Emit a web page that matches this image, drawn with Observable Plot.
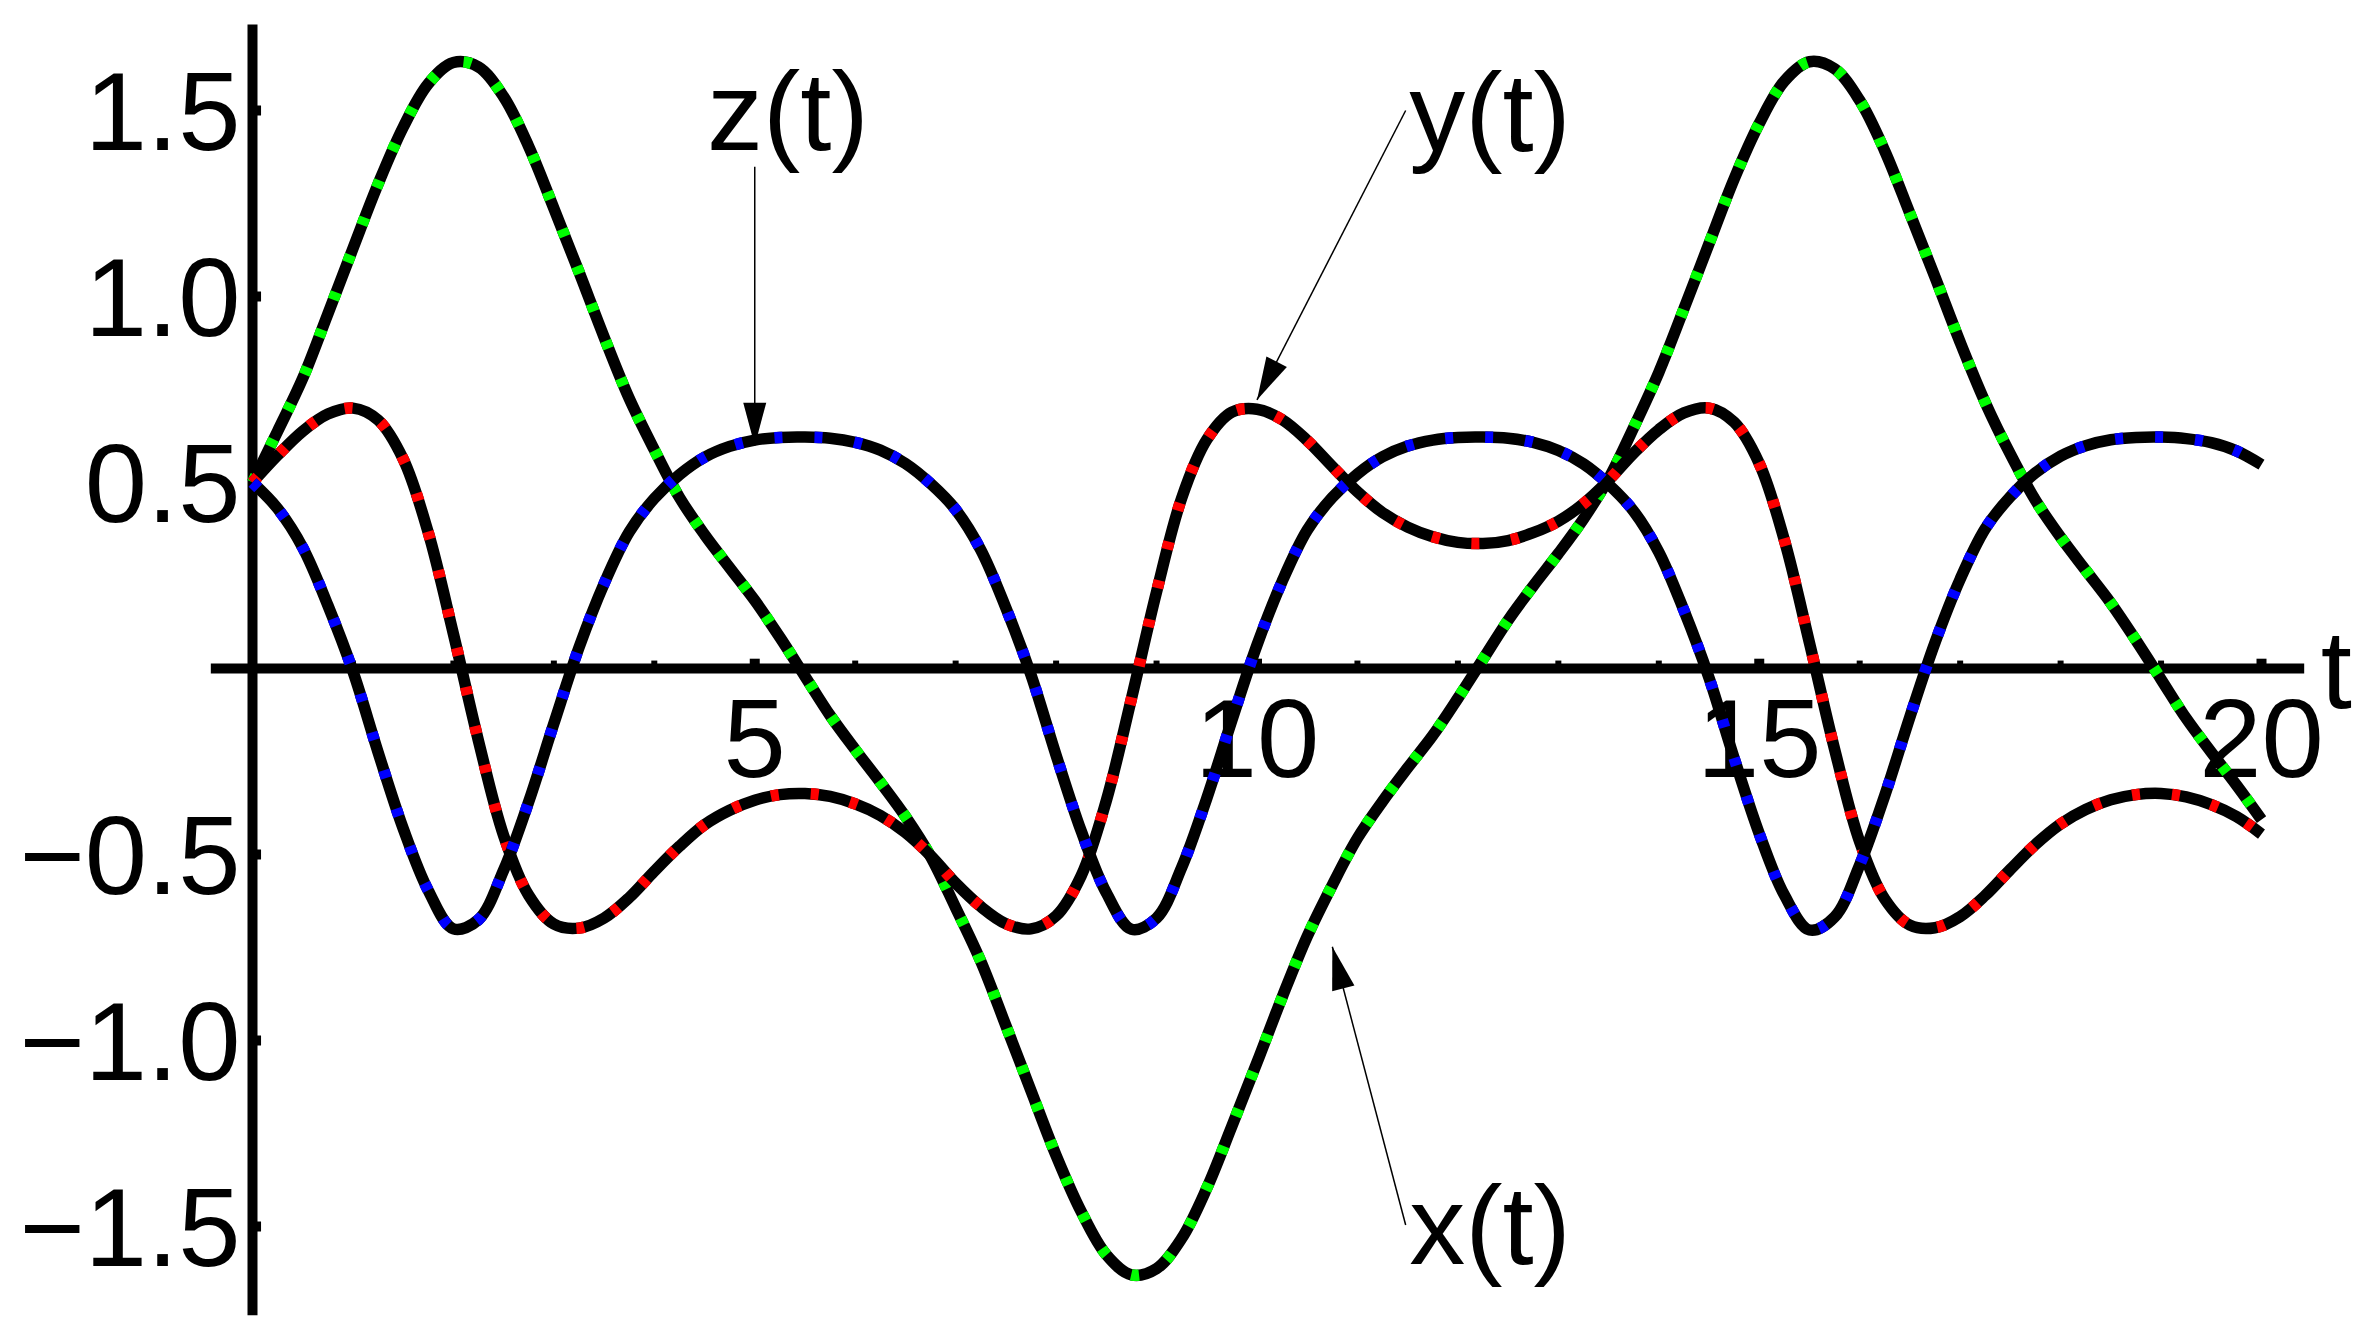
<!DOCTYPE html>
<html>
<head>
<meta charset="utf-8">
<script src="https://cdn.jsdelivr.net/npm/d3@7"></script>
<script src="https://cdn.jsdelivr.net/npm/@observablehq/plot@0.6"></script>
<style>
  html, body { margin: 0; padding: 0; background: #ffffff; }
  #chart { width: 2368px; height: 1332px; }
</style>
</head>
<body>
<div id="chart"></div>
<script>
// time grid (step 0.25)
const tValues = d3.range(0, 20.001, 0.25);

// series values
const xValues = [0.500,0.638,0.780,0.953,1.129,1.302,1.455,1.572,1.629,1.617,
  1.537,1.403,1.237,1.066,0.891,0.726,0.588,0.460,0.360,0.271,
  0.183,0.084,-0.021,-0.126,-0.218,-0.306,-0.398,-0.505,-0.643,-0.787,
  -0.960,-1.135,-1.309,-1.460,-1.576,-1.630,-1.613,-1.532,-1.397,-1.230,
  -1.059,-0.884,-0.720,-0.582,-0.456,-0.357,-0.267,-0.180,-0.080,0.025,
  0.130,0.222,0.309,0.402,0.510,0.648,0.796,0.967,1.142,1.316,
  1.465,1.579,1.631,1.612,1.527,1.391,1.223,1.052,0.877,0.715,
  0.576,0.452,0.353,0.264,0.176,0.076,-0.029,-0.134,-0.225,-0.313,-0.406];

const yValues = [0.500,0.573,0.638,0.684,0.700,0.668,0.563,0.365,0.093,-0.195,
  -0.449,-0.610,-0.687,-0.698,-0.671,-0.616,-0.545,-0.478,-0.420,-0.381,
  -0.354,-0.339,-0.336,-0.344,-0.364,-0.395,-0.441,-0.503,-0.577,-0.640,
  -0.686,-0.700,-0.665,-0.557,-0.355,-0.081,0.206,0.458,0.615,0.689,
  0.697,0.669,0.613,0.543,0.475,0.419,0.380,0.354,0.339,0.336,
  0.344,0.365,0.396,0.443,0.506,0.579,0.642,0.687,0.700,0.662,
  0.551,0.345,0.069,-0.217,-0.466,-0.620,-0.690,-0.697,-0.667,-0.610,
  -0.540,-0.473,-0.418,-0.379,-0.353,-0.339,-0.336,-0.345,-0.366,-0.398,-0.445];

const zValues = [0.500,0.430,0.325,0.170,-0.008,-0.225,-0.430,-0.597,-0.700,-0.675,
  -0.542,-0.358,-0.148,0.056,0.228,0.367,0.457,0.521,0.568,0.597,
  0.614,0.621,0.622,0.619,0.608,0.587,0.551,0.497,0.427,0.319,
  0.163,-0.017,-0.233,-0.437,-0.603,-0.701,-0.671,-0.535,-0.349,-0.139,
  0.063,0.234,0.372,0.460,0.523,0.569,0.598,0.614,0.621,0.622,
  0.619,0.608,0.586,0.550,0.495,0.423,0.313,0.156,-0.025,-0.241,
  -0.444,-0.609,-0.703,-0.668,-0.528,-0.341,-0.130,0.070,0.240,0.376,
  0.462,0.526,0.571,0.599,0.615,0.621,0.622,0.618,0.607,0.585,0.548];

const seriesNames = ["x(t)", "y(t)", "z(t)"];
const seriesColors = ["#00ff00", "#ff0000", "#0000ff"];
const seriesValues = [xValues, yValues, zValues];

// axes
const xTickValues = [5, 10, 15, 20];
const xTickLabels = ["5", "10", "15", "20"];
const xMinorTicks = [1,2,3,4,6,7,8,9,11,12,13,14,16,17,18,19];
const yTickValues = [-1.5, -1, -0.5, 0.5, 1, 1.5];
const yTickLabels = ["\u22121.5", "\u22121.0", "\u22120.5", "0.5", "1.0", "1.5"];
const axisLabel = "t";

// annotation labels with arrows
const annoLabels = ["z(t)", "y(t)", "x(t)"];
const annoTextPos = [[5.33, 1.395], [12.32, 1.392], [12.32, -1.602]];
const annoArrowFrom = [[5.0, 1.349], [11.48, 1.50], [11.48, -1.496]];
const annoArrowTo = [[5.0, 0.599], [10.0, 0.722], [10.75, -0.748]];

// scale setup
const xDomain = [0, 20], xRange = [252, 2261];
const yDomain = [-1.5, 1.5], yRange = [1226, 110];
const pxPerT = (xRange[1] - xRange[0]) / (xDomain[1] - xDomain[0]);
const pxPerV = (yRange[0] - yRange[1]) / (yDomain[1] - yDomain[0]);

const annotations = annoLabels.map((label, i) => {
  const [x1, y1] = annoArrowFrom[i], [x2, y2] = annoArrowTo[i];
  const ang = Math.atan2((x2 - x1) * pxPerT, (y2 - y1) * pxPerV) * 180 / Math.PI;
  return {label, tx: annoTextPos[i][0], ty: annoTextPos[i][1], x1, y1, x2, y2, rot: (ang + 360) % 360};
});

const FONT = 112;
const lineMarks = [];
seriesNames.forEach((name, k) => {
  const rows = tValues.map((t, i) => ({t, v: seriesValues[k][i]}));
  lineMarks.push(Plot.line(rows, {x: "t", y: "v", stroke: "black", strokeWidth: 11.5,
    curve: "catmull-rom", strokeLinecap: "butt", strokeLinejoin: "round"}));
  lineMarks.push(Plot.line(rows, {x: "t", y: "v", stroke: seriesColors[k], strokeWidth: 11.5,
    curve: "catmull-rom", strokeLinecap: "butt", strokeLinejoin: "round", strokeDasharray: "8,32"}));
});

const chart = Plot.plot({
  width: 2368,
  height: 1332,
  margin: 0,
  style: {fontFamily: "'Liberation Sans', Arial, sans-serif", background: "#ffffff", color: "black"},
  x: {domain: xDomain, range: xRange, axis: null},
  y: {domain: yDomain, range: yRange, axis: null},
  marks: [
    // axis lines
    Plot.ruleY([0], {x1: -0.41, x2: 20.43, stroke: "black", strokeWidth: 10}),
    Plot.ruleX([0], {y1: -1.74, y2: 1.73, stroke: "black", strokeWidth: 10}),
    // tick stubs
    Plot.ruleX(xTickValues, {x: d => d, y1: 0, y2: 0.025, stroke: "black", strokeWidth: 10}),
    Plot.ruleX(xMinorTicks, {x: d => d, y1: 0, y2: 0.02, stroke: "black", strokeWidth: 6}),
    Plot.ruleY(yTickValues, {y: d => d, x1: 0, x2: 0.09, stroke: "black", strokeWidth: 10}),
    // tick labels
    Plot.text(yTickValues, {x: 0, y: d => d, text: (d, i) => yTickLabels[i], textAnchor: "end",
      lineAnchor: "middle", dx: -12, dy: 4, fontSize: FONT, fill: "black"}),
    Plot.text(xTickValues, {x: d => d, y: 0, text: (d, i) => xTickLabels[i], textAnchor: "middle",
      lineAnchor: "top", dy: 29, fontSize: FONT, fill: "black"}),
    Plot.text([axisLabel], {x: 20.43, y: 0, text: d => d, textAnchor: "start", lineAnchor: "bottom",
      dx: 16, dy: 39, fontSize: FONT, fill: "black"}),
    // curves
    ...lineMarks,
    // annotations
    Plot.link(annotations, {x1: "x1", y1: "y1", x2: "x2", y2: "y2", stroke: "black", strokeWidth: 1.5}),
    Plot.vector(annotations, {x: "x2", y: "y2", rotate: "rot", length: 43, r: 11.5, anchor: "end",
      shape: "spike", fill: "black", stroke: "none"}),
    Plot.text(annotations, {x: "tx", y: "ty", text: "label", textAnchor: "middle", lineAnchor: "bottom",
      fontSize: FONT, fill: "black"})
  ]
});
document.getElementById("chart").appendChild(chart);
</script>
</body>
</html>
